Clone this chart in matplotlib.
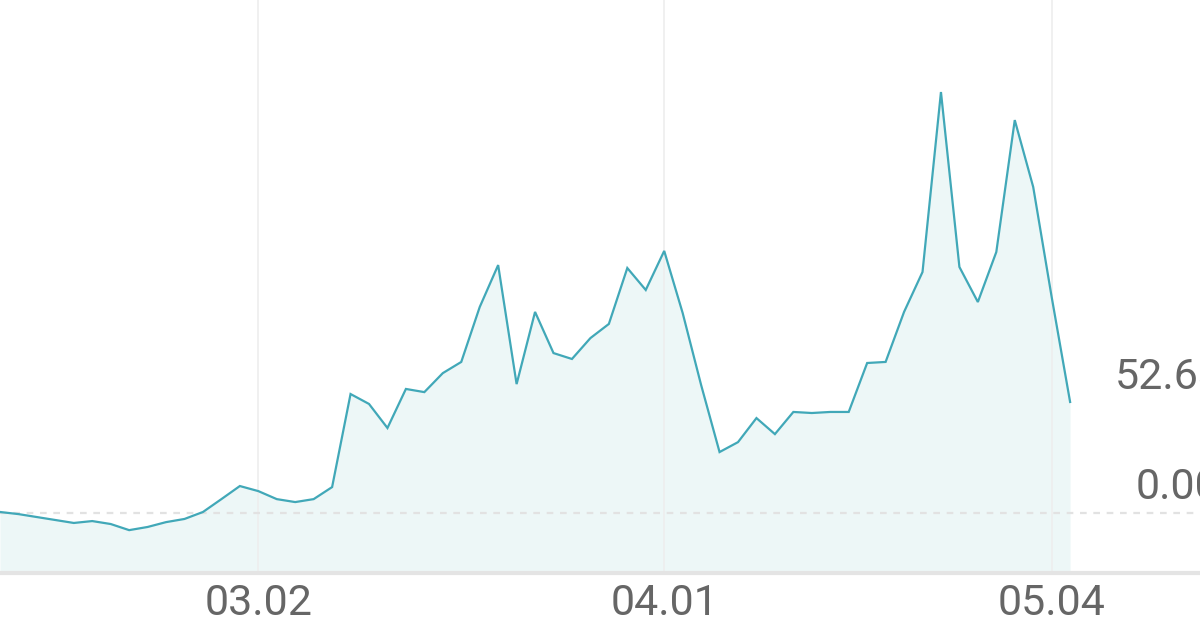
import matplotlib
matplotlib.use("Agg")
import matplotlib.pyplot as plt
import matplotlib.transforms as mtransforms
import numpy as np

plt.rcParams["font.family"] = ["Roboto", "DejaVu Sans"]

# cumulative return (%) per trading day
returns = [
    0.5, -0.5, -1.9, -3.3, -4.7, -3.8, -5.2, -8.1, -6.6, -4.3,
    -2.8, 0.5, 6.6, 12.8, 10.4, 6.6, 5.2, 6.6, 12.3, 56.4,
    51.7, 40.3, 58.8, 57.3, 66.3, 71.6, 97.6, 117.5, 61.1, 95.3,
    75.8, 73.0, 82.9, 89.6, 116.1, 105.7, 124.2, 94.8, 60.7, 28.9,
    33.6, 45.0, 37.4, 47.9, 47.4, 47.9, 47.9, 71.1, 71.6, 95.3,
    114.2, 199.5, 116.6, 100.0, 123.7, 186.2, 154.5, 102.4, 52.63,
]
tick_index = [14, 36, 57]
tick_labels = ["03.02", "04.01", "05.04"]
baseline = 0.0

LINE = "#41a8b8"
FILL = "#edf7f7"
TEXT = "#666666"
FS = 31

x = np.arange(len(returns))
y = np.array(returns)

fig = plt.figure(figsize=(12, 6.3), dpi=100)
ax = fig.add_axes([0, 0.0905, 1, 0.9095])

ymin, ymax = -28.4, 243.1
ax.fill_between(x, y, ymin, color=FILL, lw=0, zorder=1)
ax.plot(x, y, color=LINE, lw=1.6, zorder=3, solid_joinstyle="miter")

# vertical grid at date ticks
for t in tick_index:
    ax.axvline(t, color="#eeeeee", lw=1.2, zorder=2)

# dashed reference line at start value
ax.axhline(baseline, color="#e2e2e2", lw=1.6, ls=(0, (3, 3)), zorder=2)

ax.set_xlim(0, 65.04)
ax.set_ylim(ymin, ymax)
ax.set_xticks(tick_index)
ax.set_xticklabels(tick_labels, fontsize=FS, color=TEXT)
ax.tick_params(axis="x", length=0, pad=7)
ax.set_yticks([])
for side in ["top", "left", "right"]:
    ax.spines[side].set_visible(False)
ax.spines["bottom"].set_color("#e4e4e4")
ax.spines["bottom"].set_linewidth(3)

# right-side value labels (cut off by the frame, as in the source)
trans = mtransforms.blended_transform_factory(ax.transAxes, ax.transData)
ax.annotate(f"{returns[-1]:.2f}%", xy=(0.929, returns[-1]), xycoords=trans,
            xytext=(0, 9), textcoords="offset points",
            fontsize=FS, color=TEXT, ha="left", va="baseline")
ax.annotate(f"{baseline:.2f}%", xy=(0.946, baseline), xycoords=trans,
            xytext=(0, 10), textcoords="offset points",
            fontsize=FS, color=TEXT, ha="left", va="baseline")

fig.savefig("out.png", dpi=100)
